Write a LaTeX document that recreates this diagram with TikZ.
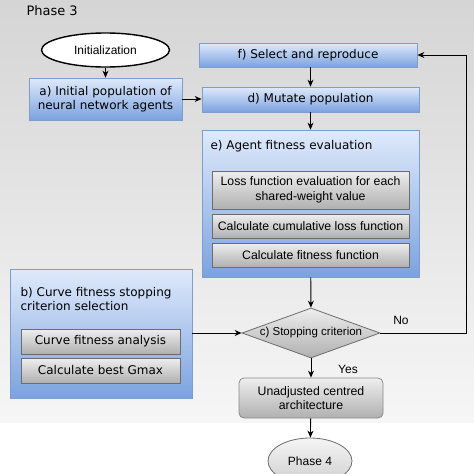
\documentclass[tikz,border=0pt]{standalone}
\usepackage{fontspec}
\setmainfont{Liberation Sans}
\newfontfamily\verdana{DejaVu Sans}
\usetikzlibrary{shapes.geometric,arrows.meta}

\definecolor{panTop}{HTML}{D5D5D5}
\definecolor{panBot}{HTML}{F6F6F6}
\definecolor{blueTop}{HTML}{DFEAFB}
\definecolor{blueBot}{HTML}{7BA2DF}
\definecolor{blueLine}{HTML}{7F9DCB}
\definecolor{grayTop}{HTML}{EEEEEE}
\definecolor{grayBot}{HTML}{B0B0B0}
\definecolor{grayLine}{HTML}{6C6C6C}

\begin{document}
\begin{tikzpicture}[x=1pt,y=1pt,yscale=-1,
	bluebox/.style={draw=blueLine,line width=0.8pt,top color=blueTop,bottom color=blueBot,inner sep=0pt,align=center,font=\verdana\fontsize{12}{14.5}\selectfont},
	graybox/.style={draw=grayLine,line width=0.8pt,top color=grayTop,bottom color=grayBot,inner sep=0pt,align=center,font=\fontsize{12.3}{14.5}\selectfont},
	arr/.style={-{Stealth[length=7pt,width=6pt]},line width=0.9pt},
	lbl/.style={font=\fontsize{12}{14}\selectfont}
	]
			\useasboundingbox (0,0) rectangle (474,474);
			%Shape: Rectangle (background panel)
			\fill [top color=panTop,bottom color=panBot] (0,0) rectangle (474,422);
			\node [anchor=west,font=\verdana\fontsize{13}{15}\selectfont] (phasethree) at (23,11) {Phase 3};

			%Shape: Ellipse
			\node [ellipse,draw,line width=1.4pt,fill=white,minimum width=128,minimum height=34,inner sep=0pt,lbl] (init) at (105.5,50) {Initialization};
			%Shape: Rectangle
			\node [bluebox,minimum width=153,minimum height=42] (popa) at (105.5,99) {a) Initial population of\\neural network agents};
			\node [bluebox,minimum width=218,minimum height=24] (selectf) at (308,55) {f) Select and reproduce};
			\node [bluebox,minimum width=217,minimum height=25] (mutated) at (310.5,99.5) {d) Mutate population};

			%Shape: Rectangle (fitness evaluation)
			\node [bluebox,minimum width=217,minimum height=147] (evale) at (310.5,203.5) {};
			\node [anchor=west,font=\verdana\fontsize{12}{14}\selectfont] (evaletitle) at (207,146) {e) Agent fitness evaluation};
			\node [graybox,minimum width=197,minimum height=38] (loss) at (310.5,190) {Loss function evaluation for each\\shared-weight value};
			\node [graybox,minimum width=197,minimum height=24] (cumloss) at (310.5,226) {Calculate cumulative loss function};
			\node [graybox,minimum width=197,minimum height=24] (fitfun) at (310.5,255) {Calculate fitness function};

			%Shape: Rectangle (stopping criterion selection)
			\node [bluebox,minimum width=182,minimum height=129] (curveb) at (101,333.5) {};
			\node [anchor=west,align=left,font=\verdana\fontsize{12}{14}\selectfont] (curvebtitle) at (17,299) {b) Curve fitness stopping\\criterion selection};
			\node [graybox,font=\verdana\fontsize{12}{14}\selectfont,minimum width=159,minimum height=25] (curvefit) at (100.5,341.5) {Curve fitness analysis};
			\node [graybox,font=\verdana\fontsize{12}{14}\selectfont,minimum width=159,minimum height=25] (gmax) at (100.5,370.5) {Calculate best Gmax};

			%Shape: Diamond
			\node [diamond,draw=grayLine,line width=0.8pt,top color=grayTop,bottom color=grayBot,minimum width=138,minimum height=50,inner sep=0pt,aspect=2.76,font=\fontsize{11.5}{14}\selectfont] (stop) at (311,333) {c) Stopping criterion};
			%Shape: Rounded Rect
			\node [graybox,rounded corners=5pt,draw=grayLine!80,minimum width=144,minimum height=40] (unadj) at (311,398) {Unadjusted centred\\architecture};
			%Shape: Ellipse
			\node [ellipse,draw=grayLine,line width=0.8pt,top color=grayTop!60!white,bottom color=grayBot!60!white,minimum width=84,minimum height=46,inner sep=0pt,lbl] (phasefour) at (310,461) {Phase 4};

			\coordinate (noturn) at (466,333);

			%Straight Lines
			\draw [arr] (init) -- (popa);
			\draw [arr] (popa.east) -- (popa.east -| mutated.west);
			\draw [arr] (mutated.north |- selectf.south) -- (mutated.north);
			\draw [arr] (mutated) -- (evale);
			\draw [arr] (evale) -- (stop);
			\draw [arr] (curveb.east |- stop.west) -- (stop.west);
			\draw [arr] (stop.east) -- (noturn) |- (selectf.east);
			\draw [arr] (stop) -- (unadj);
			\draw [arr] (unadj) -- (phasefour);
			\node [lbl] (nolbl) at (401,320) {No};
			\node [lbl] (yeslbl) at (348,369) {Yes};

			\end{tikzpicture}
\end{document}
